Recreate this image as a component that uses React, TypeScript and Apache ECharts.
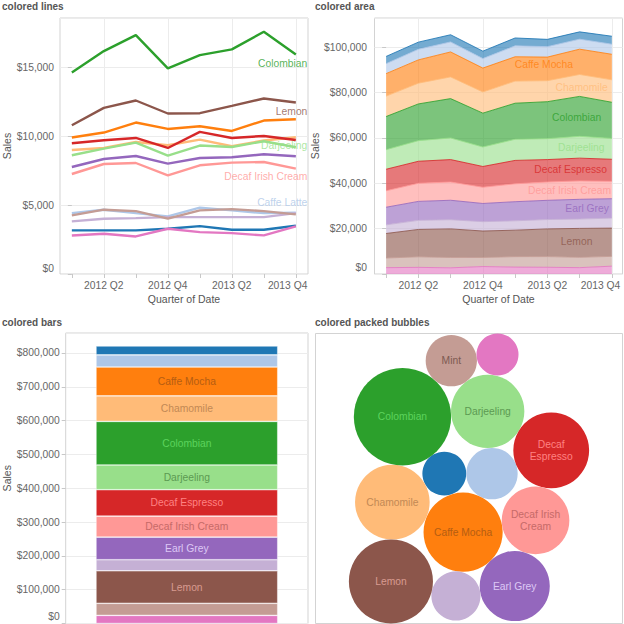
import React, { useEffect, useRef } from "react";
import * as echarts from "echarts";

// ---- data -------------------------------------------------------------
const quarters = ["2012 Q1", "2012 Q2", "2012 Q3", "2012 Q4", "2013 Q1", "2013 Q2", "2013 Q3", "2013 Q4"];

const products = [
  "Amaretto", "Caffe Latte", "Caffe Mocha", "Chamomile", "Colombian", "Darjeeling",
  "Decaf Espresso", "Decaf Irish Cream", "Earl Grey", "Green Tea", "Lemon", "Mint", "Regular Espresso",
];

// quarterly sales per product
const amaretto = [3161, 3161, 3161, 3285, 3474, 3212, 3212, 3503];
const caffeLatte = [4418, 4665, 4418, 4179, 4811, 4615, 4418, 4447];
const caffeMocha = [9898, 10261, 10988, 10523, 10719, 10377, 11133, 11228];
const chamomile = [8996, 9142, 9578, 9338, 9752, 9265, 9680, 9919];
const colombian = [14621, 16169, 17332, 14912, 15878, 16292, 17572, 15929];
const darjeeling = [8611, 9098, 9534, 8590, 9316, 9215, 9629, 9193];
const decafEspresso = [9483, 9701, 9869, 9142, 10305, 9869, 10014, 9723];
const decafIrishCream = [7253, 7979, 8052, 7158, 7885, 8081, 8125, 7645];
const earlGrey = [7761, 8342, 8561, 8008, 8415, 8466, 8684, 8539];
const greenTea = [3815, 4011, 4055, 4128, 4128, 4128, 4128, 4418];
const lemon = [10791, 12049, 12586, 11642, 11664, 12194, 12732, 12441];
const mint = [4251, 4665, 4564, 4011, 4615, 4709, 4564, 4324];
const regularEspresso = [2798, 2921, 2725, 3285, 3038, 2965, 2798, 3452];

const productSales = [
  amaretto, caffeLatte, caffeMocha, chamomile, colombian, darjeeling,
  decafEspresso, decafIrishCream, earlGrey, greenTea, lemon, mint, regularEspresso,
];

// text shown inside each packed bubble ("" = too small for a label)
const bubbleLabels = [
  "", "", "Caffe Mocha", "Chamomile", "Colombian", "Darjeeling",
  "Decaf\nEspresso", "Decaf Irish\nCream", "Earl Grey", "", "Lemon", "Mint", "",
];

// ---- styles -----------------------------------------------------------
const palette = [
  "#1f77b4", "#aec7e8", "#ff7f0e", "#ffbb78", "#2ca02c", "#98df8a",
  "#d62728", "#ff9896", "#9467bd", "#c5b0d5", "#8c564b", "#c49c94", "#e377c2",
];
// label colour used on top of a filled mark of the matching colour
const onMarkColors = [
  "#a9d0f0", "#6f8fb3", "#b55d12", "#c28955", "#5cd35c", "#5c9a52",
  "#ff8282", "#c66a68", "#ddc8f5", "#8a75a0", "#d89b90", "#7d5a52", "#a84d8c",
];

// end-of-line labels in the line panel (vertical nudge in px)
const lineLabelSpec = [
  { product: "Colombian", dy: 9 },
  { product: "Lemon", dy: 9 },
  { product: "Darjeeling", dy: -1.5 },
  { product: "Decaf Irish Cream", dy: 7.5 },
  { product: "Caffe Latte", dy: -10.5 },
];

// band labels in the area panel: quarter they sit on, nudge in px
const areaLabelSpec = [
  { product: "Caffe Mocha", quarter: 5, dx: -3.5, dy: -4.3 },
  { product: "Chamomile", quarter: 6, dx: 2, dy: 1.6 },
  { product: "Colombian", quarter: 6, dx: -3, dy: 1.3 },
  { product: "Darjeeling", quarter: 6, dx: 1.7, dy: 0 },
  { product: "Decaf Espresso", quarter: 6, dx: -9, dy: 0 },
  { product: "Decaf Irish Cream", quarter: 6, dx: -10, dy: 0 },
  { product: "Earl Grey", quarter: 6, dx: 7.5, dy: -1 },
  { product: "Lemon", quarter: 6, dx: -3, dy: -1 },
];

const FONT = '"Liberation Sans", Arial, sans-serif';
const TICK_TEXT = "#666666";
const TITLE_TEXT = "#555555";
const FRAME = "#d3d3d3";
const GRIDLINE = "#ececec";
const TICK_LINE = "#c8c8c8";
const FS = 10.3;

const GRID_LINES = { left: 60, top: 18, width: 248, height: 256 };
const GRID_AREA = { left: 374.5, top: 18, width: 248, height: 256 };
const GRID_BARS = { left: 65.7, top: 333, width: 242.3, height: 290.5 };
const GRID_BUBBLES = { left: 315.5, top: 333.5, width: 307, height: 290 };

// ---- helpers ----------------------------------------------------------
const withCommas = (v: number) => String(Math.round(v)).replace(/\B(?=(\d{3})+(?!\d))/g, ",");
const money = (v: number) => "$" + withCommas(v);

type PackNode = { r: number; x: number; y: number; next: PackNode; prev: PackNode };

// place c tangent to a and b
function placeCircle(a: PackNode, b: PackNode, c: PackNode) {
  let db = a.r + c.r;
  const dx = b.x - a.x;
  const dy = b.y - a.y;
  if (db && (dx || dy)) {
    let da = b.r + c.r;
    const dc = dx * dx + dy * dy;
    da *= da;
    db *= db;
    const x = 0.5 + (db - da) / (2 * dc);
    const y = Math.sqrt(Math.max(0, 2 * da * (db + dc) - (db - dc) * (db - dc) - da * da)) / (2 * dc);
    c.x = a.x + x * dx + y * dy;
    c.y = a.y + x * dy - y * dx;
  } else {
    c.x = a.x + db;
    c.y = a.y;
  }
}

// front-chain circle packing; each new circle is anchored on the chain circle nearest the origin
function packCircles(radii: number[]): PackNode[] {
  const nodes = radii.map((r) => ({ r, x: 0, y: 0 } as PackNode));
  nodes.forEach((n) => { n.next = n; n.prev = n; });
  const insert = (a: PackNode, b: PackNode) => {
    const c = a.next; a.next = b; b.prev = a; b.next = c; c.prev = b;
  };
  const splice = (a: PackNode, b: PackNode) => { a.next = b; b.prev = a; };
  const intersects = (a: PackNode, b: PackNode) => {
    const dx = b.x - a.x, dy = b.y - a.y, dr = a.r + b.r;
    return 0.999 * dr * dr > dx * dx + dy * dy;
  };
  const n = nodes.length;
  if (!n) return nodes;
  let a = nodes[0];
  a.x = -a.r; a.y = 0;
  if (n < 2) return nodes;
  let b = nodes[1];
  b.x = b.r; b.y = 0;
  if (n < 3) return nodes;
  let c = nodes[2];
  placeCircle(a, b, c);
  insert(a, c);
  a.prev = c;
  insert(c, b);
  b = a.next;
  let guard = 0;
  for (let i = 3; i < n && guard < 5000; i++, guard++) {
    c = nodes[i];
    placeCircle(a, b, c);
    let isect = false, s1 = 1, s2 = 1;
    let j: PackNode = b.next;
    let k: PackNode = a.prev;
    for (j = b.next; j !== b; j = j.next, s1++) {
      if (intersects(j, c)) { isect = true; break; }
    }
    if (isect) {
      for (k = a.prev; k !== j.prev; k = k.prev, s2++) {
        if (intersects(k, c)) break;
      }
      if (s1 < s2 || (s1 === s2 && b.r < a.r)) { b = j; splice(a, b); }
      else { a = k; splice(a, b); }
      i--;
    } else {
      insert(a, c);
      let best = c, bestD = c.x * c.x + c.y * c.y;
      for (let m = c.next; m !== c; m = m.next) {
        const d = m.x * m.x + m.y * m.y;
        if (d < bestD) { best = m; bestD = d; }
      }
      a = best;
      b = a.next;
    }
  }
  return nodes;
}

const tickText = { color: TICK_TEXT, fontSize: FS, fontFamily: FONT };
const nameText = { color: TITLE_TEXT, fontSize: 10.5, fontFamily: FONT };

function salesAxis(gridIndex: number, max: number, interval: number, zeroLift: number, margin: number, nameGap: number) {
  return {
    gridIndex,
    type: "value",
    min: 0,
    max,
    interval,
    axisLine: { show: false },
    axisTick: { show: true, length: 4, lineStyle: { color: TICK_LINE } },
    axisLabel: {
      ...tickText,
      margin,
      showMaxLabel: false,
      formatter: (v: number) => (v % interval !== 0 ? "" : v === 0 ? "{z|$0}" : money(v)),
      rich: { z: { ...tickText, padding: [0, 0, zeroLift, 0] } },
    },
    splitLine: { show: true, lineStyle: { color: GRIDLINE } },
    name: "Sales",
    nameLocation: "middle",
    nameGap,
    nameTextStyle: nameText,
  };
}

const quarterIdx = quarters.map((_, i) => i);
const labelledQuarters = quarterIdx.filter((i) => i % 2 === 1);
const otherQuarters = quarterIdx.filter((i) => i % 2 === 0);
const lastQ = quarters.length - 1;

// the last quarter label is pulled back inside the frame by `endPull` px
function quarterAxes(gridIndex: number, min: number, max: number, endPull: number) {
  return [
    {
      gridIndex, type: "value", min, max, position: "bottom",
      axisLine: { show: false },
      axisTick: { show: true, customValues: labelledQuarters, length: 4, lineStyle: { color: TICK_LINE } },
      axisLabel: {
        ...tickText, customValues: labelledQuarters, margin: 6,
        formatter: (v: number) => {
          const q = Math.round(v);
          return q === lastQ ? `{e|${quarters[q]}}` : quarters[q] ?? "";
        },
        rich: { e: { ...tickText, padding: [0, endPull * 2, 0, 0] } },
      },
      splitLine: { show: true, lineStyle: { color: GRIDLINE } },
      name: "Quarter of Date", nameLocation: "middle", nameGap: 19, nameTextStyle: nameText,
    },
    {
      gridIndex, type: "value", min, max, position: "bottom",
      axisLine: { show: false },
      axisTick: { show: true, customValues: otherQuarters, length: 4, lineStyle: { color: TICK_LINE } },
      axisLabel: { show: false },
      splitLine: { show: false },
    },
  ];
}

function buildOption() {
  const idx = (name: string) => products.indexOf(name);
  const stackOrder = products.map((_, i) => products.length - 1 - i); // bottom of the stack first
  const totals = productSales.map((s) => s.reduce((acc, v) => acc + v, 0));

  // ---- lines ----
  const lineSeries = products.map((p, i) => ({
    type: "line", name: p, xAxisIndex: 0, yAxisIndex: 0,
    data: productSales[i].map((v, q) => [q, v]),
    showSymbol: false, symbol: "none",
    lineStyle: { width: 2.4, color: palette[i] },
    itemStyle: { color: palette[i] },
    z: 3,
  }));
  const lineLabels = {
    type: "scatter", xAxisIndex: 0, yAxisIndex: 0, symbolSize: 1, z: 6,
    itemStyle: { color: "rgba(0,0,0,0)" },
    data: lineLabelSpec.map((s) => {
      const i = idx(s.product);
      return {
        value: [lastQ, productSales[i][lastQ]],
        label: {
          show: true, position: "inside", align: "right", verticalAlign: "middle",
          offset: [11.5, s.dy], formatter: s.product, color: palette[i], fontSize: FS, fontFamily: FONT,
        },
      };
    }),
  };

  // ---- stacked area ----
  // sales first, quarter second, so the stack runs along the y dimension
  const areaSeries = stackOrder.map((i) => ({
    type: "line", name: products[i], xAxisIndex: 2, yAxisIndex: 1, stack: "area",
    data: productSales[i].map((v, q) => [v, q]),
    encode: { x: 1, y: 0 },
    showSymbol: false, symbol: "none",
    lineStyle: { width: 1, color: palette[i], opacity: 0.85 },
    areaStyle: { color: palette[i], opacity: 0.62 },
    itemStyle: { color: palette[i] },
  }));
  const stackBase = (product: number, q: number) => {
    let base = 0;
    for (const i of stackOrder) {
      if (i === product) break;
      base += productSales[i][q];
    }
    return base;
  };
  const areaLabels = {
    type: "scatter", xAxisIndex: 2, yAxisIndex: 1, symbolSize: 1, z: 6,
    itemStyle: { color: "rgba(0,0,0,0)" },
    data: areaLabelSpec.map((s) => {
      const i = idx(s.product);
      const mid = stackBase(i, s.quarter) + productSales[i][s.quarter] / 2;
      return {
        value: [s.quarter, mid],
        label: {
          show: true, position: "inside", align: "center", verticalAlign: "middle",
          offset: [s.dx, s.dy], formatter: s.product, color: palette[i], fontSize: FS, fontFamily: FONT,
        },
      };
    }),
  };

  // ---- stacked bar ----
  const barSeries = stackOrder.map((i) => ({
    type: "bar", name: products[i], xAxisIndex: 4, yAxisIndex: 2, stack: "bar",
    data: [totals[i]], barWidth: "75%",
    itemStyle: { color: palette[i], borderColor: "rgba(255,255,255,0.7)", borderWidth: 0.6 },
    label: {
      show: totals[i] >= 50000, position: "inside", formatter: products[i],
      color: onMarkColors[i], fontSize: FS, fontFamily: FONT,
    },
  }));

  // ---- packed bubbles ----
  const nodes = packCircles(totals.map((t) => Math.sqrt(t)));
  let x0 = Infinity, x1 = -Infinity, y0 = Infinity, y1 = -Infinity;
  nodes.forEach((n) => {
    x0 = Math.min(x0, n.x - n.r); x1 = Math.max(x1, n.x + n.r);
    y0 = Math.min(y0, n.y - n.r); y1 = Math.max(y1, n.y + n.r);
  });
  const scale = Math.min(GRID_BUBBLES.width / (x1 - x0), GRID_BUBBLES.height / (y1 - y0));
  const cx = (x0 + x1) / 2, cy = (y0 + y1) / 2;
  const halfW = GRID_BUBBLES.width / (2 * scale), halfH = GRID_BUBBLES.height / (2 * scale);
  const bubbleSeries = {
    type: "scatter", xAxisIndex: 5, yAxisIndex: 3,
    data: nodes.map((n, i) => ({
      name: products[i],
      value: [n.x, n.y],
      symbolSize: 2 * n.r * scale,
      itemStyle: { color: palette[i], opacity: 1 },
      label: {
        show: bubbleLabels[i] !== "", position: "inside", formatter: bubbleLabels[i],
        color: onMarkColors[i], fontSize: FS, lineHeight: 12.4, fontFamily: FONT, align: "center",
      },
    })),
  };

  const gridBase = {
    show: true, borderColor: FRAME, borderWidth: 1, backgroundColor: "transparent",
    containLabel: false, outerBoundsMode: "none",
  };
  const titleStyle = { fontSize: 10, fontWeight: "bold", color: TITLE_TEXT, fontFamily: FONT };

  return {
    animation: false,
    backgroundColor: "#ffffff",
    textStyle: { fontFamily: FONT },
    title: [
      { text: "colored lines", left: 2, top: 1.5, padding: 0, textStyle: titleStyle },
      { text: "colored area", left: 315, top: 1.5, padding: 0, textStyle: titleStyle },
      { text: "colored bars", left: 2, top: 317.3, padding: 0, textStyle: titleStyle },
      { text: "colored packed bubbles", left: 315, top: 317.3, padding: 0, textStyle: titleStyle },
    ],
    grid: [GRID_LINES, GRID_AREA, GRID_BARS, GRID_BUBBLES].map((g) => ({ ...gridBase, ...g })),
    xAxis: [
      ...quarterAxes(0, -0.37, 7.38, 8.2),
      ...quarterAxes(1, -0.36, 7.33, 11.3),
      { gridIndex: 2, type: "category", data: ["Sales"], show: false },
      { gridIndex: 3, type: "value", min: cx - halfW, max: cx + halfW, show: false },
    ],
    yAxis: [
      salesAxis(0, 18570, 5000, 11, 6, 46),
      salesAxis(1, 112800, 20000, 14, 7.5, 48.5),
      salesAxis(2, 859000, 100000, 15, 6, 52),
      { gridIndex: 3, type: "value", min: cy - halfH, max: cy + halfH, show: false },
    ],
    series: [...lineSeries, lineLabels, ...areaSeries, areaLabels, ...barSeries, bubbleSeries],
  };
}

export default function App() {
  const ref = useRef<HTMLDivElement>(null);
  useEffect(() => {
    if (!ref.current) return;
    const chart = echarts.init(ref.current, undefined, { renderer: "svg" });
    chart.setOption(buildOption() as any);
    return () => chart.dispose();
  }, []);
  return (
    <div
      ref={ref}
      style={{ position: "fixed", left: 0, top: 0, width: 624, height: 624, background: "#ffffff" }}
    />
  );
}
